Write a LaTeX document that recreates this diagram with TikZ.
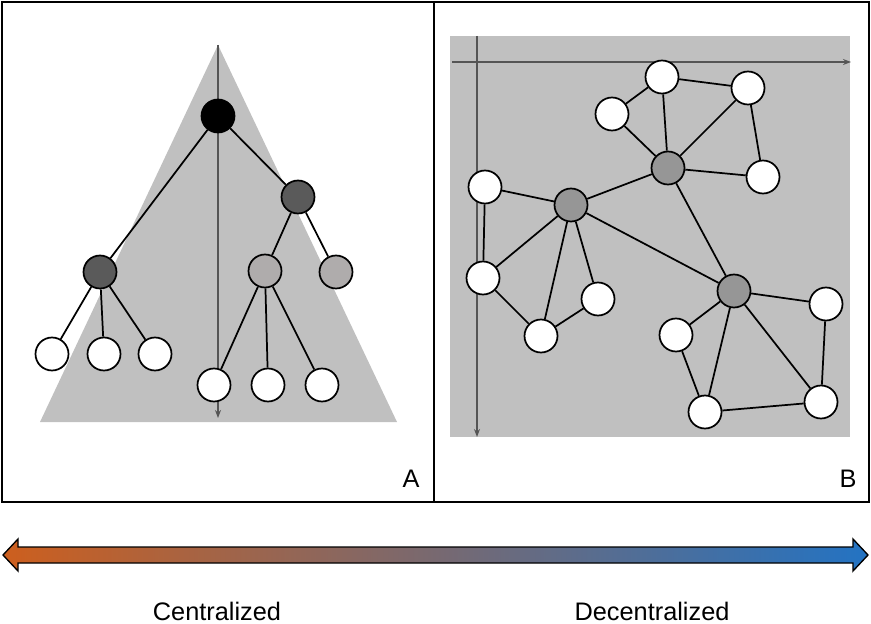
\documentclass[tikz,border=0pt]{standalone}
\usepackage{fontspec}
\setmainfont{Liberation Sans}
\usetikzlibrary{arrows.meta}
\definecolor{tri}{RGB}{192,192,192}
\definecolor{dk}{RGB}{90,90,90}
\definecolor{lt}{RGB}{175,172,172}
\definecolor{hub}{RGB}{150,150,150}
\definecolor{axc}{RGB}{85,85,85}
\definecolor{org}{RGB}{205,95,30}
\definecolor{mid}{RGB}{135,100,140}
\definecolor{blu}{RGB}{35,115,195}
\tikzset{nd/.style={circle,draw=black,line width=1.3pt,minimum size=24.75pt,inner sep=0pt},
 ed/.style={line width=1.3pt},
 ax/.style={draw=axc,line width=1.2pt,-{Stealth[length=6pt,width=4.5pt]}},
 lbl/.style={font=\fontsize{19}{22}\selectfont}}
\begin{document}
\begin{tikzpicture}[x=0.75pt,y=-0.75pt]
\useasboundingbox (0,0) rectangle (871,624);
\draw[line width=1.5pt] (2,2) rectangle (869,502);
\draw[line width=1.5pt] (434,2) -- (434,502);
% panel A
\fill[tri] (218,45) -- (397,422) -- (40,422) -- cycle;
\coordinate (at) at (218,45); \coordinate (ab) at (218,418);
\draw[ax] (at) -- (ab);
\node[nd,fill=black] (r) at (218,116) {};
\node[nd,fill=dk] (d1) at (298,197) {};
\node[nd,fill=dk] (d2) at (100,272) {};
\node[nd,fill=lt] (l1) at (265,271) {};
\node[nd,fill=lt] (l2) at (336,272) {};
\foreach \n/\x/\y in {w1/52/354,w2/104/354,w3/155/354,w4/214/385,w5/268/385,w6/322/385}
  \node[nd,fill=white] (\n) at (\x,\y) {};
\foreach \a/\b in {r/d1,r/d2,d1/l1,d1/l2,d2/w1,d2/w2,d2/w3,l1/w4,l1/w5,l1/w6}
  \draw[ed] (\a) -- (\b);
\node[lbl] (la) at (411,479) {A};
% panel B
\fill[tri] (450,36) rectangle (850,437);
\coordinate (hl) at (452,62); \coordinate (hr) at (851,62);
\coordinate (vt) at (477,36); \coordinate (vb) at (477,437);
\draw[ax] (hl) -- (hr);
\draw[ax] (vt) -- (vb);
\node[nd,fill=hub] (h1) at (668,168) {};
\node[nd,fill=hub] (h2) at (571,205) {};
\node[nd,fill=hub] (h3) at (734,291) {};
\foreach \n/\x/\y in {a1/662/77,a2/748/88,a3/612/114,a4/763/177,b1/485/187,b2/483/278,b3/598/299,b4/541/336,c1/826/304,c2/676/335,c3/821/402,c4/705/412}
  \node[nd,fill=white] (\n) at (\x,\y) {};
\foreach \a/\b in {h1/a1,h1/a2,h1/a3,h1/a4,a1/a2,a3/a1,a2/a4,h1/h2,h1/h3,h2/b1,h2/b2,h2/b4,h2/b3,b1/b2,b2/b4,b4/b3,h2/h3,h3/c1,h3/c2,h3/c4,h3/c3,c1/c3,c3/c4,c2/c4}
  \draw[ed] (\a) -- (\b);
\node[lbl] (lb) at (848,479) {B};
% gradient arrow
\shade[left color=org,middle color=mid,right color=blu,draw=black,line width=1pt]
 (3,555) -- (18,539) -- (18,547) -- (853,547) -- (853,539) -- (868,555) -- (853,571) -- (853,563) -- (18,563) -- (18,571) -- cycle;
\node[lbl] (c) at (217,611) {Centralized};
\node[lbl] (dc) at (652,611) {Decentralized};
\end{tikzpicture}
\end{document}
